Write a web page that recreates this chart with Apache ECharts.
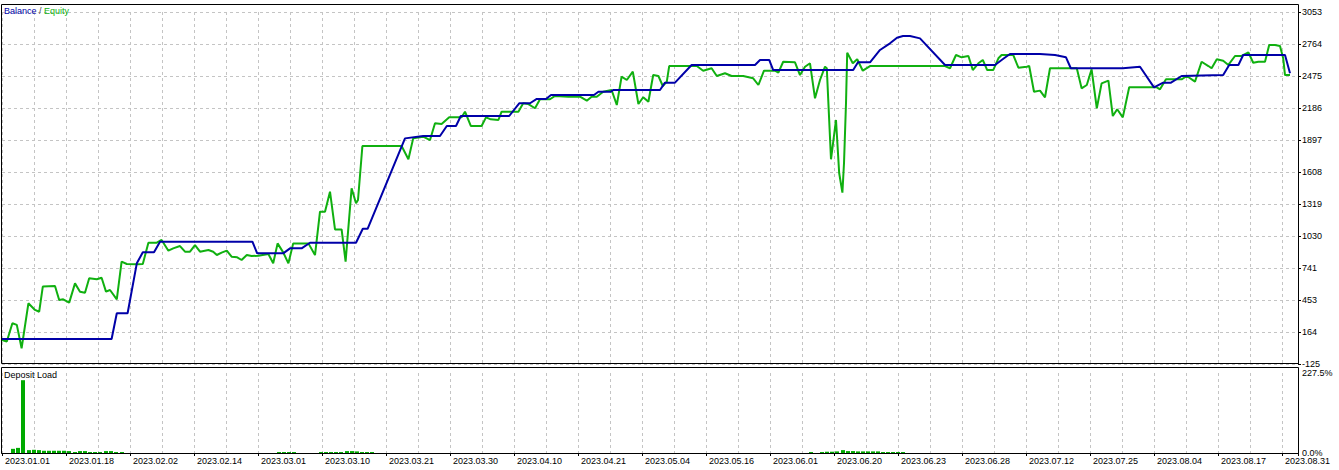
<!DOCTYPE html>
<html>
<head>
<meta charset="utf-8">
<script src="https://cdn.jsdelivr.net/npm/echarts@6/dist/echarts.min.js"></script>
<style>html,body{margin:0;padding:0;background:#fff;}#c{width:1339px;height:470px;}</style>
</head>
<body>
<div id="c"></div>
<script>
// x axis: trade-point index (4 px per step in the original), date labels every 16 steps
const xLabels = ['2023.01.01','2023.01.18','2023.02.02','2023.02.14','2023.03.01','2023.03.10','2023.03.21','2023.03.30','2023.04.10','2023.04.21','2023.05.04','2023.05.16','2023.06.01','2023.06.20','2023.06.23','2023.06.28','2023.07.12','2023.07.25','2023.08.04','2023.08.17','2023.08.31'];
const yTickLabels = ['-125','164','453','741','1030','1319','1608','1897','2186','2475','2764','3053'];
const loadTickLabels = ['0.0%','227.5%'];

const balancePoints = [[0,101],[27.4,101],[28.7,333],[31.4,333],[33.7,784],[35.2,883],[38,883],[39.5,979],[62.6,979],[63.8,874],[70.3,874],[72,919],[74.9,919],[77,970],[88.5,970],[90.2,1096],[91.4,1096],[100.75,1912],[105.3,1933],[109.5,1933],[111.2,2024],[113.5,2024],[114.7,2114],[126.8,2114],[129.3,2229],[132,2229],[133.7,2268],[136,2268],[137.25,2304],[148,2304],[149.1,2333],[152.2,2333],[152.8,2349],[164.5,2349],[165.75,2415],[168.25,2415],[172.4,2575],[188.25,2575],[189.5,2620],[191.8,2620],[192.8,2529],[212.8,2529],[214,2599],[217,2599],[219.5,2710],[222,2770],[223.75,2821],[225.25,2836],[227,2836],[229.5,2815],[235.75,2575],[248.25,2575],[250.5,2635],[252,2674],[259.5,2674],[263.25,2665],[266,2644],[267.2,2545],[280.2,2545],[284.5,2559],[288,2373],[290.3,2415],[292.25,2415],[294.9,2475],[305.3,2484],[306.8,2575],[309.1,2575],[310.3,2665],[320.75,2665],[322,2500]];

const equityPoints = [[0,92],[1.2,78],[2.6,243],[3.7,228],[4.9,17],[6.6,423],[8.25,363],[9.3,347],[10.2,574],[13.25,580],[14.3,453],[15.3,459],[16.8,429],[18.25,603],[19.5,528],[20.75,519],[21.8,649],[23.7,640],[24.9,654],[26,528],[27,543],[28.7,459],[29.9,800],[31.2,778],[33.8,776],[35.2,778],[36.6,970],[38.7,970],[39.9,995],[41.6,898],[42.8,919],[44.5,940],[45.75,889],[47,889],[48.25,949],[49.5,889],[51.6,904],[52.8,889],[53.7,859],[54.9,880],[56.2,898],[57.4,844],[58.8,838],[59.9,814],[61.2,859],[62.4,850],[64.1,853],[66.6,868],[67.8,784],[68.9,964],[70.3,883],[71.6,784],[72.8,964],[76.6,964],[78.25,859],[79.5,1250],[80.75,1250],[82,1431],[83.25,1090],[84.9,1090],[85.9,800],[87.4,1461],[88.5,1326],[89,1356],[90.1,1843],[99.9,1843],[101.6,1723],[102.8,1912],[105.3,1927],[107,1897],[108.25,2048],[109.9,2042],[111.8,2102],[114.9,2102],[115.75,2153],[117.2,2024],[119.9,2024],[121,2102],[122.2,2084],[124.1,2078],[124.9,2153],[129.1,2153],[130.3,2229],[131.6,2222],[133.25,2184],[134.5,2265],[137,2265],[138.25,2295],[141.6,2288],[144.5,2288],[146.2,2252],[147.4,2288],[148.7,2288],[150.3,2333],[152.4,2349],[153.7,2213],[154.9,2469],[156.2,2439],[157.7,2514],[159.1,2222],[160.3,2283],[161.6,2243],[162.8,2484],[164.1,2475],[165.2,2385],[166.2,2424],[166.8,2565],[173.7,2565],[175.3,2523],[177.4,2545],[178.7,2475],[180.75,2500],[182.4,2475],[185.3,2475],[187.8,2454],[189.1,2394],[190.5,2523],[193.25,2523],[194.1,2505],[195.3,2604],[198.25,2599],[199.5,2484],[200.75,2559],[202,2590],[203.25,2274],[204.5,2439],[205.75,2559],[206.2,2545],[206.6,2229],[207.25,1723],[208.5,2078],[209.3,1597],[210.1,1422],[210.5,1687],[211,2229],[211.3,2686],[212.7,2590],[213.8,2626],[215.2,2523],[217,2565],[235.75,2565],[237,2545],[238.5,2665],[239.9,2644],[241.6,2656],[242.7,2529],[244.1,2590],[245.2,2620],[246.3,2529],[247.8,2529],[249.1,2635],[249.9,2665],[252.8,2665],[254.1,2550],[256.2,2559],[256.8,2565],[258,2333],[259.5,2343],[260.75,2283],[262,2545],[268.7,2545],[269.9,2364],[271.2,2394],[272.4,2536],[273.7,2184],[274.9,2409],[276.6,2433],[277.7,2114],[278.8,2175],[280.2,2102],[281.8,2373],[288.7,2373],[289.5,2355],[291,2445],[294.9,2445],[296.2,2475],[298.25,2424],[299.9,2604],[301.6,2565],[302.4,2545],[303.7,2626],[305.3,2613],[306.6,2575],[308.25,2656],[309.9,2656],[311.6,2689],[312.8,2595],[314.1,2604],[315.75,2604],[316.8,2755],[318.25,2755],[319.5,2746],[320.3,2635],[320.75,2484],[322,2484]];

const depositLoad = [[2.75,13],[4,16],[5.25,227.5],[6.75,9],[8,10],[9.25,9],[10.5,7],[11.75,7],[13,7],[14.25,7],[15.5,7],[16.75,6],[18.25,3],[19.5,6],[20.75,6],[22,3],[23.25,3],[24.5,3],[26,6],[27.25,6],[28.5,3],[30,3],
[69.25,3],[70.5,3],[71.75,3],[73,3],
[79.75,3],[81,3],[82.25,3],[83.5,3],[84.75,3],[86.25,6],[87.5,6],[88.75,5],[90,3],[91.25,3],[92.5,3],
[202.25,3],[205,3],[206.25,4],[207.5,4],[208.75,5],[210.25,9],[211.5,6],[212.75,6],[214,5],[215.25,5],[216.5,5],[217.75,5],[219,5],[220.25,3],[221.5,3],[222.75,3],[224,3],[225.25,3]];

const FONT = 'Liberation Sans, DejaVu Sans, sans-serif';
const gridLine = {show:true, lineStyle:{color:'#c4c4c4', type:[3,3], width:1}};
const chart = echarts.init(document.getElementById('c'), null, {renderer:'svg'});
chart.setOption({
  animation:false,
  backgroundColor:'#fff',
  title:[
    {left:4, top:6, padding:0, text:'{b|Balance}{s| / }{e|Equity}',
     textStyle:{fontFamily:FONT, fontSize:9, fontWeight:'normal',
       rich:{b:{color:'#0000a8',fontFamily:FONT,fontSize:9}, s:{color:'#444',fontFamily:FONT,fontSize:9}, e:{color:'#10b010',fontFamily:FONT,fontSize:9}}}},
    {left:4, top:370, padding:0, text:'Deposit Load', textStyle:{fontFamily:FONT, fontSize:9, fontWeight:'normal', color:'#000'}}
  ],
  grid:[
    {left:2, right:41, top:12, bottom:106},
    {left:2, right:41, top:373, bottom:17}
  ],
  xAxis:[
    {gridIndex:0, type:'value', min:0, max:324, interval:8, axisLine:{show:false}, axisTick:{show:false}, axisLabel:{show:false}, splitLine:gridLine},
    {gridIndex:1, type:'value', min:0, max:324, interval:16, position:'bottom',
     axisLine:{show:true, onZero:false, lineStyle:{color:'#000', width:1}},
     axisTick:{show:true, length:3, lineStyle:{color:'#000'}},
     axisLabel:{show:true, margin:3, align:'left', padding:[0,0,0,3], color:'#000', fontFamily:FONT, fontSize:9, showMinLabel:true, showMaxLabel:true,
       formatter:function(v){ const i = v/16; return Number.isInteger(i) && xLabels[i] ? xLabels[i] : ''; }},
     splitLine:{show:false}},
    {gridIndex:1, type:'value', min:0, max:324, interval:8, axisLine:{show:false}, axisTick:{show:false}, axisLabel:{show:false}, splitLine:gridLine}
  ],
  yAxis:[
    {gridIndex:0, type:'value', min:-125, max:3053, position:'left', show:false},
    {gridIndex:0, type:'value', min:0, max:11, interval:1, position:'right',
     axisLine:{show:true, onZero:false, lineStyle:{color:'#000', width:1}},
     axisTick:{show:true, length:3, lineStyle:{color:'#000'}},
     axisLabel:{show:true, margin:4, color:'#000', fontFamily:FONT, fontSize:9, showMinLabel:true, showMaxLabel:true,
       formatter:function(v){ return yTickLabels[Math.round(v)]; }},
     splitLine:gridLine},
    {gridIndex:1, type:'value', min:0, max:250, position:'left', show:false},
    {gridIndex:1, type:'value', min:0, max:1, interval:1, position:'right',
     axisLine:{show:true, onZero:false, lineStyle:{color:'#000', width:1}},
     axisTick:{show:false},
     axisLabel:{show:true, margin:4, color:'#000', fontFamily:FONT, fontSize:9, showMinLabel:true, showMaxLabel:true,
       formatter:function(v){ return loadTickLabels[Math.round(v)]; }},
     splitLine:{show:false}}
  ],
  series:[
    {name:'Equity', type:'line', xAxisIndex:0, yAxisIndex:0, data:equityPoints, symbol:'none', showSymbol:false, z:2,
     lineStyle:{color:'#10b010', width:2, join:'bevel'}},
    {name:'Balance', type:'line', xAxisIndex:0, yAxisIndex:0, data:balancePoints, symbol:'none', showSymbol:false, z:3,
     lineStyle:{color:'#0000a8', width:2, join:'bevel'}},
    {name:'Deposit Load', type:'bar', xAxisIndex:1, yAxisIndex:2, data:depositLoad, barWidth:4, z:1, itemStyle:{color:'#00aa00'}}
  ],
  graphic:[
    {type:'rect', z:100, silent:true, shape:{x:1.5, y:4.5, width:1297, height:359}, style:{fill:'none', stroke:'#000', lineWidth:1}},
    {type:'rect', z:100, silent:true, shape:{x:1.5, y:367.5, width:1297, height:86}, style:{fill:'none', stroke:'#000', lineWidth:1}}
  ]
});
</script>
</body>
</html>
